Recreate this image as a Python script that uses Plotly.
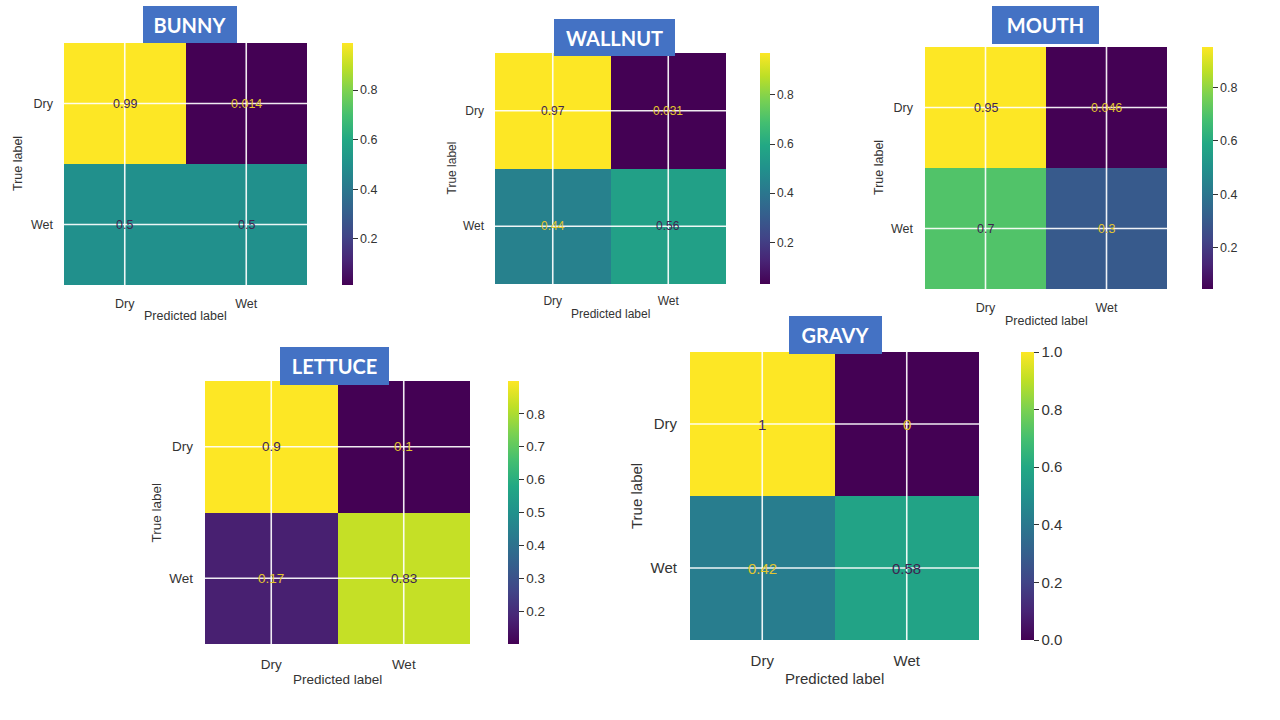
import plotly.graph_objects as go

# ---------------- data ----------------
panel_titles = ["BUNNY", "WALLNUT", "MOUTH", "LETTUCE", "GRAVY"]
class_labels = ["Dry", "Wet"]

bunny_values = [[0.99, 0.014], [0.5, 0.5]]
bunny_text = [["0.99", "0.014"], ["0.5", "0.5"]]
wallnut_values = [[0.97, 0.031], [0.44, 0.56]]
wallnut_text = [["0.97", "0.031"], ["0.44", "0.56"]]
mouth_values = [[0.95, 0.046], [0.7, 0.3]]
mouth_text = [["0.95", "0.046"], ["0.7", "0.3"]]
lettuce_values = [[0.9, 0.1], [0.17, 0.83]]
lettuce_text = [["0.9", "0.1"], ["0.17", "0.83"]]
gravy_values = [[1.0, 0.0], [0.42, 0.58]]
gravy_text = [["1", "0"], ["0.42", "0.58"]]

# text colour per cell: True -> light (yellow) text, False -> dark text
bunny_light = [[False, True], [False, False]]
wallnut_light = [[False, True], [True, False]]
mouth_light = [[False, True], [False, True]]
lettuce_light = [[False, True], [True, False]]
gravy_light = [[False, True], [True, False]]

# colour-bar tick values shown in each panel
bunny_cbar_ticks = [0.2, 0.4, 0.6, 0.8]
wallnut_cbar_ticks = [0.2, 0.4, 0.6, 0.8]
mouth_cbar_ticks = [0.2, 0.4, 0.6, 0.8]
lettuce_cbar_ticks = [0.2, 0.3, 0.4, 0.5, 0.6, 0.7, 0.8]
gravy_cbar_ticks = [0.0, 0.2, 0.4, 0.6, 0.8, 1.0]

viridis = [
    [0.0, "#440154"], [0.1, "#482475"], [0.2, "#414487"], [0.3, "#355f8d"],
    [0.4, "#2a788e"], [0.5, "#21918c"], [0.6, "#22a884"], [0.7, "#44bf70"],
    [0.8, "#7ad151"], [0.9, "#bddf26"], [1.0, "#fde725"],
]

# ---------------- layout (pixels) ----------------
W, H = 1280, 720
panels = [
    dict(hm=(64, 43, 307, 285), tb=(143, 6, 237, 43), cb=(342, 43, 353, 285), fs=12.5,
         xt=16, xl=31, yl=46, yt=12),
    dict(hm=(495, 53, 726, 284), tb=(554, 19, 675, 56), cb=(760, 53, 770, 284), fs=12,
         xt=15, xl=30, yl=43, yt=12),
    dict(hm=(925, 47, 1167, 289), tb=(992, 6, 1099, 44), cb=(1202, 47, 1213, 289), fs=12.5,
         xt=16, xl=32, yl=46, yt=13),
    dict(hm=(205, 381, 470, 644), tb=(280, 347, 389, 385), cb=(508, 381, 519, 644), fs=13.5,
         xt=18, xl=35, yl=49, yt=13),
    dict(hm=(690, 352, 979, 640), tb=(789, 316, 882, 354), cb=(1021, 352, 1034, 640), fs=15,
         xt=19, xl=38, yl=54, yt=14),
]

values = [bunny_values, wallnut_values, mouth_values, lettuce_values, gravy_values]
texts = [bunny_text, wallnut_text, mouth_text, lettuce_text, gravy_text]
lights = [bunny_light, wallnut_light, mouth_light, lettuce_light, gravy_light]
cbar_ticks = [bunny_cbar_ticks, wallnut_cbar_ticks, mouth_cbar_ticks,
              lettuce_cbar_ticks, gravy_cbar_ticks]

LIGHT_TXT = "#e3c62e"
DARK_TXT = "#3e2450"
LABEL_COL = "#333333"
FONT = "Liberation Sans, Arial, sans-serif"

fig = go.Figure()
layout = dict(
    width=W, height=H, margin=dict(l=0, r=0, t=0, b=0),
    paper_bgcolor="white", plot_bgcolor="white", showlegend=False,
    font=dict(family=FONT, color=LABEL_COL),
)
annotations = []
shapes = []

def px_x(x):
    return x / W

def px_y(y):
    return 1 - y / H

for i, p in enumerate(panels):
    n = i + 1
    sfx = "" if n == 1 else str(n)
    ca = "coloraxis" + sfx
    x0, y0, x1, y1 = p["hm"]
    fs = p["fs"]
    z = values[i]
    zmin = min(min(r) for r in z)
    zmax = max(max(r) for r in z)

    fig.add_trace(go.Heatmap(
        z=z, x=[0, 1], y=[0, 1], coloraxis=ca,
        xaxis="x" + sfx, yaxis="y" + sfx, hoverinfo="skip",
    ))

    layout["xaxis" + sfx] = dict(
        domain=[px_x(x0), px_x(x1)], anchor="y" + sfx, range=[-0.5, 1.5],
        tickvals=[0, 1], ticktext=class_labels, showgrid=False, zeroline=False,
        showline=False, ticks="", ticklabelstandoff=int(round(p["xt"] - fs * 0.5 - 1)),
        tickfont=dict(size=fs, color=LABEL_COL, family=FONT), fixedrange=True,
    )
    layout["yaxis" + sfx] = dict(
        domain=[px_y(y1), px_y(y0)], anchor="x" + sfx, range=[1.5, -0.5],
        tickvals=[0, 1], ticktext=class_labels, showgrid=False, zeroline=False,
        showline=False, ticks="", ticklabelstandoff=int(p["yt"] - 2),
        tickfont=dict(size=fs, color=LABEL_COL, family=FONT), fixedrange=True,
    )

    cx0, cy0, cx1, cy1 = p["cb"]
    layout[ca] = dict(
        colorscale=viridis, cmin=zmin, cmax=zmax,
        colorbar=dict(
            x=px_x(cx0), xanchor="left", y=px_y((cy0 + cy1) / 2), yanchor="middle",
            xref="paper", yref="paper",
            len=cy1 - cy0, lenmode="pixels", thickness=cx1 - cx0, thicknessmode="pixels",
            xpad=0, ypad=0, outlinewidth=0,
            tickmode="array", tickvals=cbar_ticks[i],
            ticktext=["%.1f" % t for t in cbar_ticks[i]],
            ticks="outside", ticklen=5, tickwidth=1, tickcolor=LABEL_COL,
            tickfont=dict(size=fs, color=LABEL_COL, family=FONT),
        ),
    )

    for r in range(2):
        for c in range(2):
            annotations.append(dict(
                x=c, y=r, xref="x" + sfx, yref="y" + sfx, text=texts[i][r][c],
                showarrow=False,
                font=dict(size=fs, family=FONT,
                          color=LIGHT_TXT if lights[i][r][c] else DARK_TXT),
            ))

    for v in (0, 1):
        shapes.append(dict(type="line", xref="x" + sfx, yref="y" + sfx,
                           x0=v, x1=v, y0=-0.5, y1=1.5,
                           line=dict(color="rgba(255,255,255,0.92)", width=1.6)))
        shapes.append(dict(type="line", xref="x" + sfx, yref="y" + sfx,
                           x0=-0.5, x1=1.5, y0=v, y1=v,
                           line=dict(color="rgba(255,255,255,0.92)", width=1.6)))

    annotations.append(dict(
        x=px_x((x0 + x1) / 2), y=px_y(y1 + p["xl"]), xref="paper", yref="paper",
        text="Predicted label", showarrow=False, xanchor="center", yanchor="middle",
        font=dict(size=fs, color=LABEL_COL, family=FONT),
    ))
    annotations.append(dict(
        x=px_x(x0 - p["yl"]), y=px_y((y0 + y1) / 2), xref="paper", yref="paper",
        text="True label", showarrow=False, xanchor="center", yanchor="middle",
        textangle=-90, font=dict(size=fs, color=LABEL_COL, family=FONT),
    ))

    tx0, ty0, tx1, ty1 = p["tb"]
    annotations.append(dict(
        x=px_x((tx0 + tx1) / 2), y=px_y((ty0 + ty1) / 2), xref="paper", yref="paper",
        text="<b>" + panel_titles[i] + "</b>", showarrow=False,
        xanchor="center", yanchor="middle",
        width=tx1 - tx0, height=ty1 - ty0, borderpad=0, borderwidth=0,
        bgcolor="#4472C4", align="center", valign="middle",
        font=dict(size=20, color="white", family="Lato, Open Sans, sans-serif"),
    ))

layout["annotations"] = annotations
layout["shapes"] = shapes
fig.update_layout(**layout)
fig.write_html("out.html")
